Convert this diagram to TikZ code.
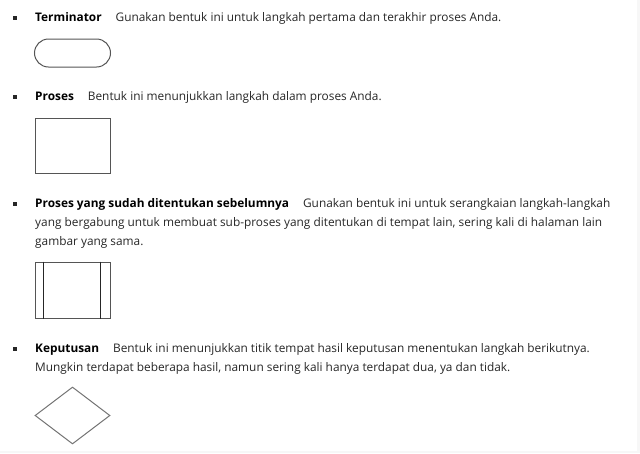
\documentclass[tikz,border=0pt]{standalone}
\usepackage{fontspec}
\setmainfont{Open Sans}
\usetikzlibrary{shapes.geometric}
\definecolor{txtgray}{HTML}{262626}
\definecolor{edgegray}{HTML}{555555}
\tikzset{
  txt/.style={anchor=base west, inner sep=0, text=txtgray, font=\fontsize{11.85}{14}\selectfont},
  bullet/.style={fill=black!85, minimum size=4, inner sep=0},
  terminal/.style={draw=edgegray, line width=1, rounded corners=14, minimum width=76, minimum height=28, inner sep=0},
  procbox/.style={draw=edgegray, line width=1, minimum width=75, minimum height=55, inner sep=0},
  decision/.style={draw=black!55, line width=1, diamond, minimum width=75, minimum height=57, inner sep=0},
  pline/.style={draw=black!85, line width=1}
}
\newcommand{\hd}[1]{{\color{black}\bfseries #1}\hspace{14pt}}
\begin{document}
\begin{tikzpicture}[x=1pt,y=-1pt]
\useasboundingbox (0,0) rectangle (640,453);
\fill[black!3] (637,0) rectangle (640,453);
\fill[black!3] (0,451) rectangle (640,453);

\def\xb{15}
\def\xt{35}
\def\xs{72.5}

\node[bullet] (ba) at (\xb, 17.5) {};
\node[txt] (ta) at (\xt, 21) {\hd{Terminator}Gunakan bentuk ini untuk langkah pertama dan terakhir proses Anda.};
\node[terminal] (term) at (\xs, 53) {};

\node[bullet] (bb) at (\xb, 96.5) {};
\node[txt] (tb) at (\xt, 100) {\hd{Proses}Bentuk ini menunjukkan langkah dalam proses Anda.};
\node[procbox] (proc) at (\xs, 145.5) {};

\node[bullet] (bc) at (\xb, 203.5) {};
\node[txt] (tca) at (\xt, 207) {\hd{Proses yang sudah ditentukan sebelumnya}Gunakan bentuk ini untuk serangkaian langkah-langkah};
\node[txt] (tcb) at (\xt, 226) {yang bergabung untuk membuat sub-proses yang ditentukan di tempat lain, sering kali di halaman lain};
\node[txt] (tcc) at (\xt, 245) {gambar yang sama.};
\node[procbox, minimum height=56] (pred) at (\xs, 290) {};
\draw[pline] ([xshift=9]pred.north west) -- ([xshift=9]pred.south west);
\draw[pline] ([xshift=-10]pred.north east) -- ([xshift=-10]pred.south east);

\node[bullet] (bd) at (\xb, 349) {};
\node[txt] (tda) at (\xt, 352.5) {\hd{Keputusan}Bentuk ini menunjukkan titik tempat hasil keputusan menentukan langkah berikutnya.};
\node[txt] (tdb) at (\xt, 371.5) {Mungkin terdapat beberapa hasil, namun sering kali hanya terdapat dua, ya dan tidak.};
\node[decision] (dec) at (\xs, 415.5) {};
\end{tikzpicture}
\end{document}
